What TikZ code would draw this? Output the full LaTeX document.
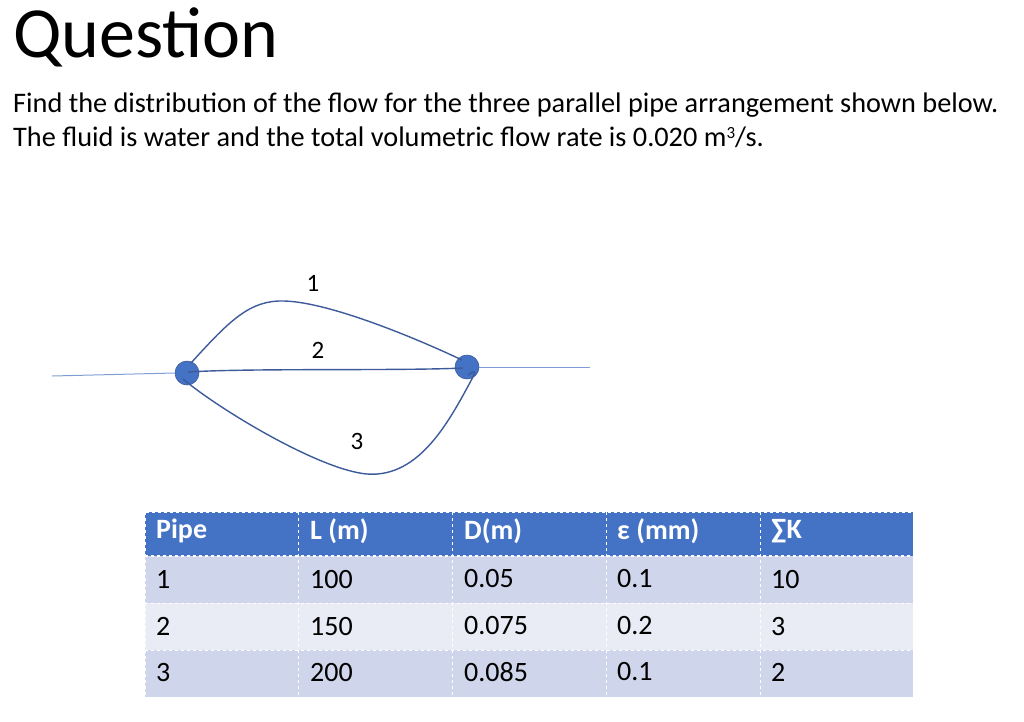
\documentclass[tikz,border=0pt]{standalone}
\usepackage{fontspec}
\setmainfont{Carlito}
\definecolor{hdr}{HTML}{4472C4}
\definecolor{rowa}{HTML}{CFD5EA}
\definecolor{rowb}{HTML}{E9EBF5}
\definecolor{pipe}{HTML}{3D5A9A}
\definecolor{feed}{HTML}{7F9FD4}
\begin{document}
\begin{tikzpicture}[x=1pt,y=-1pt,
  txt/.style={anchor=base west,inner sep=0pt,font=\fontsize{28.3}{32}\selectfont},
  cell/.style={anchor=west,inner sep=0pt,font=\fontsize{28}{32}\selectfont},
  hcell/.style={cell,text=white,font=\fontsize{28}{32}\selectfont\bfseries},
  pipeline/.style={draw=pipe,line width=1.4pt},
  junction/.style={circle,fill=hdr,draw=pipe,line width=0.6pt,minimum size=24pt,inner sep=0pt},
  lbl/.style={font=\fontsize{25}{28}\selectfont,inner sep=0pt}]
\useasboundingbox (0,0) rectangle (1024,721);
\node[anchor=base west,inner sep=0pt,font=\fontsize{72}{78}\selectfont] (title) at (13,57) {Question};
\node[txt] (l1) at (13,112) {Find the distribution of the flow for the three parallel pipe arrangement shown below.};
\node[txt] (l2) at (13,146) {The fluid is water and the total volumetric flow rate is 0.020 m{\fontsize{17}{20}\selectfont\raisebox{0.45em}{3}}/s.};
% diagram
\node[junction] (A) at (187,373) {};
\node[junction] (B) at (467,367) {};
\coordinate (inL) at (52,376);
\coordinate (outR) at (590,367);
\draw[feed,line width=1pt] (inL) -- (A.west);
\draw[feed,line width=1pt] (B.east) -- (outR);
\draw[pipeline] (191,363) .. controls (230,320) and (250,300) .. (284,301) .. controls (330,302) and (420,340) .. (462,360);
\draw[pipeline] (188,372) .. controls (250,368) and (400,371) .. (463,368);
\draw[pipeline] (183,379) .. controls (220,410) and (320,470) .. (367,474) .. controls (420,478) and (450,420) .. (474,375) .. controls (476,370) and (472,372) .. (468,375);
\node[lbl] (n1) at (313,283) {1};
\node[lbl] (n2) at (318,350) {2};
\node[lbl] (n3) at (357,441) {3};
% table
\fill[hdr] (145,512) rectangle (913,556);
\fill[rowa] (145,556) rectangle (913,603);
\fill[rowb] (145,603) rectangle (913,650);
\fill[rowa] (145,650) rectangle (913,697);
\foreach \x in {298,452,606,760}
  \draw[white,dashed,line width=0.8pt] (\x,512) -- (\x,697);
\foreach \y in {603,650}
  \draw[white,dashed,line width=0.8pt] (145,\y) -- (913,\y);
\draw[white,dashed,line width=2pt] (145,556) -- (913,556);
\draw[white,dashed,line width=0.8pt] (145,512) rectangle (913,697);
\node[hcell] (h1) at (156,531) {Pipe};
\node[hcell] (h2) at (310,531) {L (m)};
\node[hcell] (h3) at (464,531) {D(m)};
\node[hcell] (h4) at (617,531) {ε (mm)};
\node[hcell] (h5) at (771,531) {∑K};
\node[cell] (a1) at (156,579) {1};
\node[cell] (a2) at (310,579) {100};
\node[cell] (a3) at (464,579) {0.05};
\node[cell] (a4) at (617,579) {0.1};
\node[cell] (a5) at (771,579) {10};
\node[cell] (b1) at (156,626) {2};
\node[cell] (b2) at (310,626) {150};
\node[cell] (b3) at (464,626) {0.075};
\node[cell] (b4) at (617,626) {0.2};
\node[cell] (b5) at (771,626) {3};
\node[cell] (c1) at (156,672) {3};
\node[cell] (c2) at (310,672) {200};
\node[cell] (c3) at (464,672) {0.085};
\node[cell] (c4) at (617,672) {0.1};
\node[cell] (c5) at (771,672) {2};
\end{tikzpicture}
\end{document}
